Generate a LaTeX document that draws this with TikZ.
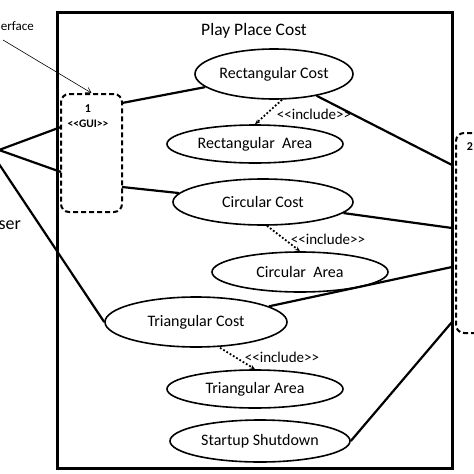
\documentclass[tikz,border=0pt]{standalone}
\usepackage{fontspec}
\setmainfont{Carlito}
\usetikzlibrary{shapes.geometric,arrows.meta,calc}
\newcommand{\incltext}{{<}{<}include{>}{>}}
\begin{document}
\begin{tikzpicture}[x=1pt,y=-1pt,
  uc/.style={draw,ellipse,line width=1.6pt,inner sep=0pt,font=\fontsize{16}{18}\selectfont},
  conn/.style={line width=2.2pt},
  incl/.style={line width=1.8pt,dotted,-{Stealth[length=5pt,width=4pt]}},
  incltxt/.style={font=\fontsize{15}{17}\selectfont,inner sep=0pt},
  dbox/.style={draw,dashed,dash pattern=on 5pt off 3pt,line width=2pt,rounded corners=8pt}]
\useasboundingbox (0,0) rectangle (474,474);
\clip (0,0) rectangle (474,474);
\fill[white] (0,0) rectangle (474,474);
% system boundary
\draw[line width=3pt] (57,12) rectangle (452,468);
\node[font=\fontsize{17.5}{19}\selectfont] (title) at (254,31) {Play Place Cost};
% interface boxes
\node[dbox,minimum width=61pt,minimum height=118pt] (gui) at (91.5,153) {};
\node[font=\bfseries\fontsize{12}{13}\selectfont,inner sep=0pt] (one) at (88,109) {1};
\node[font=\bfseries\fontsize{11.5}{13}\selectfont,inner sep=0pt] (guitxt) at (88,124) {{<}{<}GUI{>}{>}};
\node[dbox,minimum width=40pt,minimum height=200pt,anchor=north west] (right) at (455,132) {};
\node[font=\bfseries\fontsize{12}{13}\selectfont,inner sep=0pt] (two) at (470,147) {2};
% actor fragments
\node[font=\fontsize{18}{20}\selectfont,anchor=east,inner sep=0pt] (user) at (21,225) {ser};
\node[font=\fontsize{13}{15}\selectfont,anchor=east,inner sep=0pt] (iface) at (34,26) {erface};
\coordinate (arm) at (-1,150);
\coordinate (leg) at (-1,164);
\coordinate (ifs) at (3,40);
% use cases
\node[uc,minimum width=158pt,minimum height=50pt] (rectc) at (274,74) {Rectangular Cost};
\node[uc,minimum width=176pt,minimum height=38pt] (recta) at (255,144) {Rectangular\ \ Area};
\node[uc,minimum width=180pt,minimum height=46pt] (circc) at (263,202) {Circular Cost};
\node[uc,minimum width=176pt,minimum height=40pt] (circa) at (300,272) {Circular\ \ Area};
\node[uc,minimum width=182pt,minimum height=50pt] (tric) at (196,322) {Triangular Cost};
\node[uc,minimum width=176pt,minimum height=38pt] (tria) at (255,389) {Triangular Area};
\node[uc,minimum width=180pt,minimum height=42pt] (start) at (260,441) {Startup Shutdown};
% boundary points
\coordinate (gl1) at (61,127);
\coordinate (gl2) at (61,172);
\coordinate (gr1) at (122,103);
\coordinate (gr2) at (122,187);
\coordinate (b1) at (452,165);
\coordinate (b2) at (452,228);
\coordinate (b3) at (452,267);
\coordinate (b4) at (452,322);
% connectors
\draw[conn] (arm) -- (gl1);
\draw[conn] (arm) -- (gl2);
\draw[conn] (leg) -- (tric.west);
\draw[conn] (gr1) -- (rectc);
\draw[conn] (gr2) -- (circc);
\draw[conn] (rectc) -- (b1);
\draw[conn] (circc) -- (b2);
\draw[conn] (tric) -- (b3);
\draw[conn] (start.east) -- (b4);
\draw[line width=0.6pt,-{Straight Barb[length=5pt,width=6pt]}] (ifs) -- (gui.north);
% includes
\draw[incl] ($(rectc.south)+(8,0)$) -- (recta.north);
\node[incltxt] (i1) at (314,114) {\incltext};
\draw[incl] ($(circc.south)+(4,0)$) -- (circa.north);
\node[incltxt] (i2) at (328,239) {\incltext};
\draw[incl] ($(tric.south)+(24,0)$) -- (tria.north);
\node[incltxt] (i3) at (282,357) {\incltext};
\end{tikzpicture}
\end{document}
